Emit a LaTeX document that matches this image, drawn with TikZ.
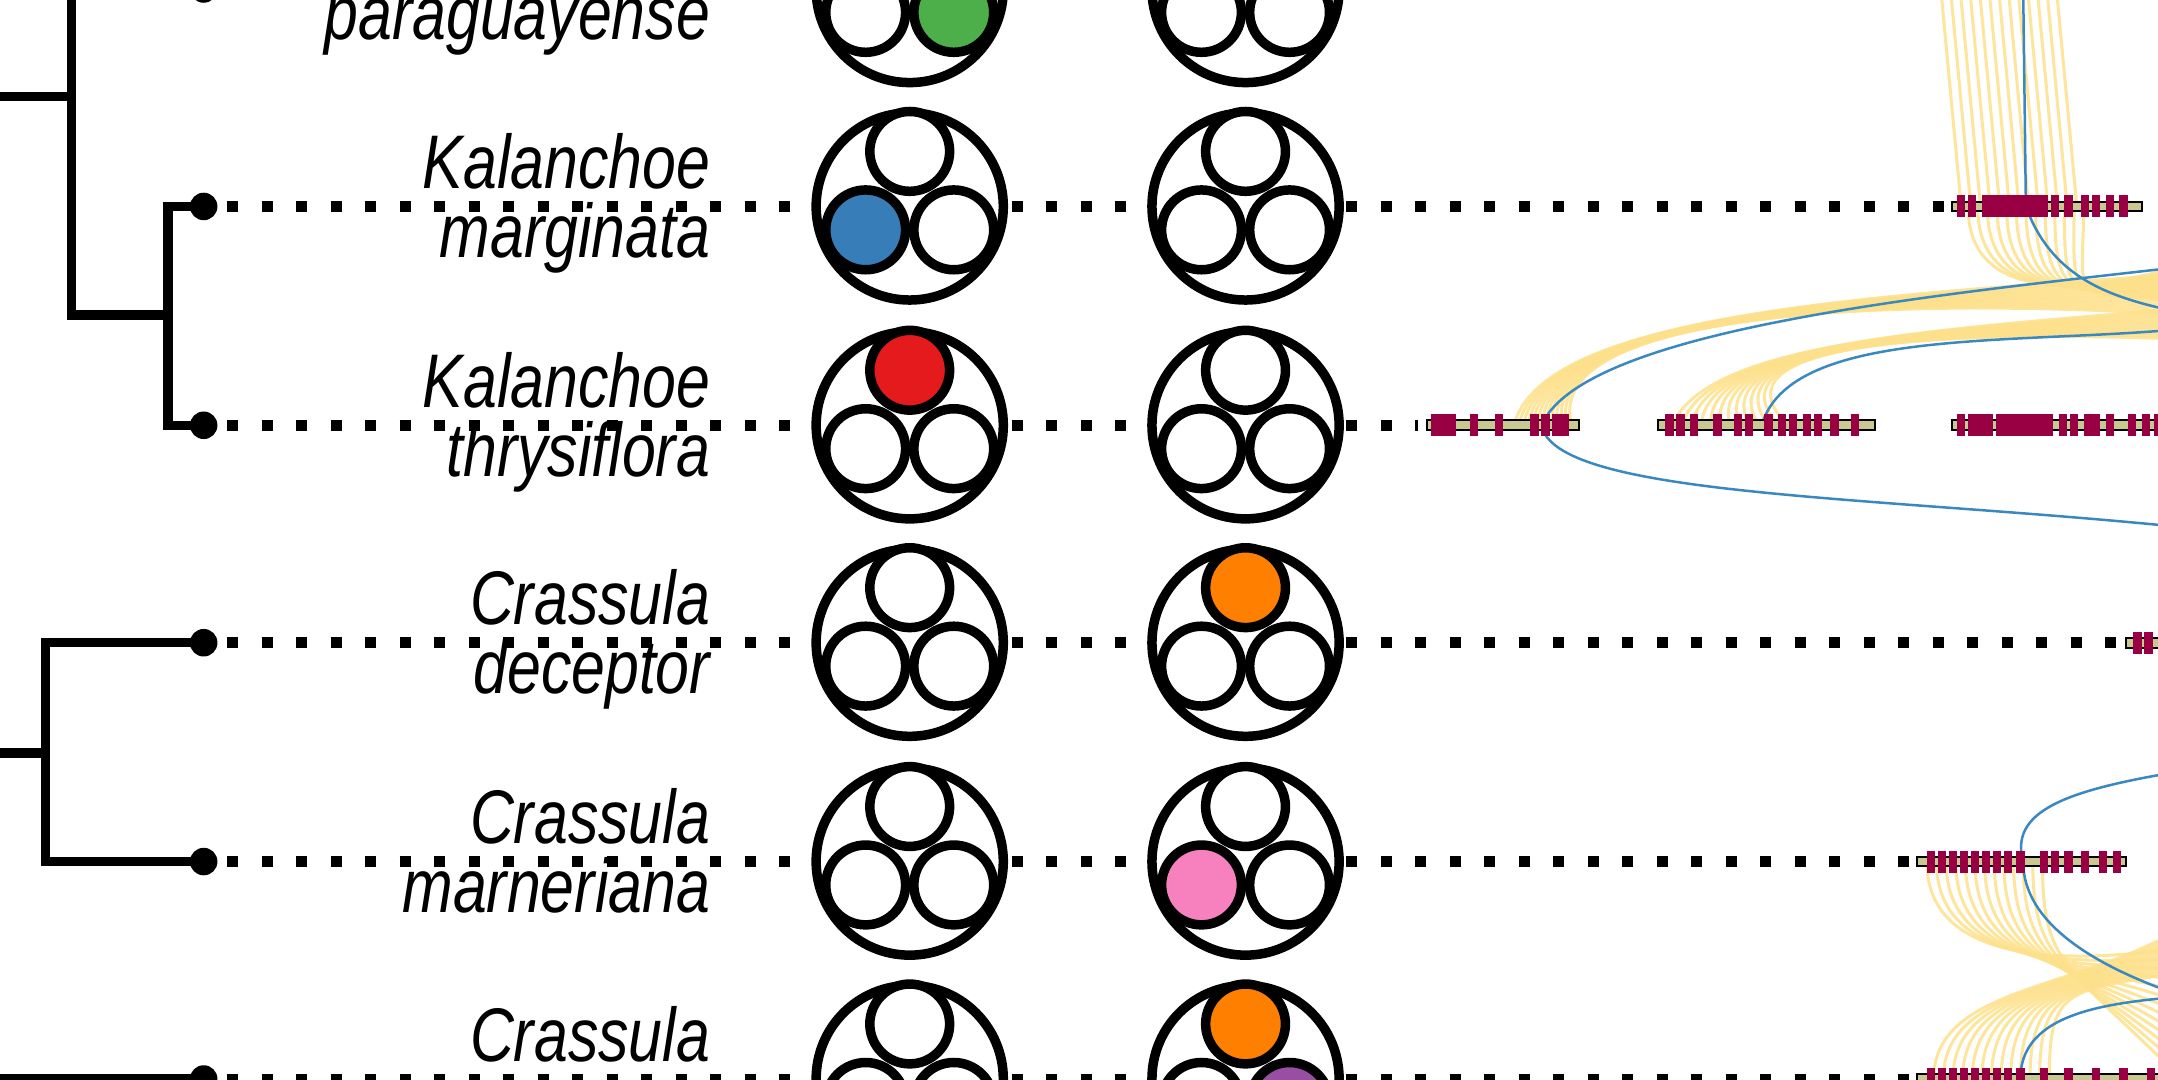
\documentclass[tikz,border=0pt]{standalone}
\usepackage{fontspec}
\setmainfont{Liberation Sans}
\definecolor{cgreen}{HTML}{4DAF4A}
\definecolor{cblue}{HTML}{377EB8}
\definecolor{cred}{HTML}{E41A1C}
\definecolor{corange}{HTML}{FF7F00}
\definecolor{cpink}{HTML}{F781BF}
\definecolor{cpurple}{HTML}{984EA3}
\definecolor{gene}{HTML}{990044}
\definecolor{ribbon}{HTML}{FDE08B}
\definecolor{link}{HTML}{3A88C0}
\definecolor{barfill}{HTML}{C8C890}
\tikzset{
  branch/.style={line width=9.5pt},
  guide/.style={line width=11pt, dash pattern=on 11pt off 23.5pt},
  ring/.style={line width=9.5pt, draw=black},
  yel/.style={ribbon, line width=3pt, opacity=0.85},
  blu/.style={link, line width=2.5pt},
  taxon/.style={anchor=base east, inner sep=0pt, font=\fontsize{76}{76}\selectfont\itshape, xscale=0.8}
}
% gene track: \track{x0}{x1}{y}{gene positions}
\newcommand{\track}[4]{%
  \draw[black, fill=barfill, line width=2pt] (#1,#3-3.5) rectangle (#2,#3+3.5);
  \foreach \g in {#4} \fill[gene] (\g,#3-8) rectangle (\g+6,#3+8);
}
% flower symbol: \flower{x}{y}{top}{left}{right}
\newcommand{\flower}[5]{%
  \draw[ring, fill=white] (#1,#2) circle (68);
  \draw[ring, fill=#3] (#1,#2-40) circle (29);
  \draw[ring, fill=#4] (#1-32,#2+17) circle (29);
  \draw[ring, fill=#5] (#1+32,#2+17) circle (29);
}
\begin{document}
\begin{tikzpicture}[x=1.3763pt,y=-1.3763pt]
\useasboundingbox (0,0) rectangle (1568,784);
\clip (0,0) rectangle (1568,784);
% ribbons
\foreach \d in {0,7,...,84} {
  \draw[yel] (1430+\d,150) .. controls (1430+\d,215) and (1500,215) .. (1575,196+\d/4);
  \draw[yel] (1410+\d,-10) -- (1425+\d,150);
  \draw[yel] (1100+\d/2,309) .. controls (1120,230) and (1350,215) .. (1575,200+\d/3);
  \draw[yel] (1215+\d,309) .. controls (1240,250) and (1400,240) .. (1575,225+\d/4);
  \draw[yel] (1400+\d,626) .. controls (1400+\d,700) and (1500,700) .. (1575,690+\d);
  \draw[yel] (1405+\d,784) .. controls (1405+\d,720) and (1500,720) .. (1575,680+\d/3);
}
\draw[blu] (1470,-10) -- (1472,150) .. controls (1490,200) and (1530,215) .. (1575,225);
\draw[blu] (1120,309) .. controls (1150,240) and (1400,215) .. (1575,195);
\draw[blu] (1120,309) .. controls (1130,360) and (1350,360) .. (1575,382);
\draw[blu] (1280,309) .. controls (1300,240) and (1450,250) .. (1575,240);
\draw[blu] (1470,626) .. controls (1460,590) and (1500,575) .. (1575,562);
\draw[blu] (1470,626) .. controls (1470,670) and (1520,700) .. (1575,720);
\draw[blu] (1468,784) .. controls (1468,740) and (1520,730) .. (1575,725);
% tree
\coordinate (tPar) at (148,-8);
\coordinate (tMar) at (148,150);
\coordinate (tThr) at (148,309);
\coordinate (tDec) at (148,467);
\coordinate (tMrn) at (148,626);
\coordinate (tBot) at (148,784);
\draw[branch] (0,70) -- (52,70);
\draw[branch] (52,-20) -- (52,229) -- (122,229);
\draw[branch] (52,-8) -- (tPar);
\draw[branch] (tMar) -| (122,309) -- (tThr);
\draw[branch] (0,547) -- (33,547);
\draw[branch] (tDec) -| (33,626) -- (tMrn);
\draw[branch] (0,784) -- (tBot);
\foreach \t in {tPar,tMar,tThr,tDec,tMrn,tBot} \fill (\t) circle (10);
% dotted guides
\foreach \y/\e in {-8/1400, 150/1415, 309/1030, 467/1545, 626/1390, 784/1390} {
  \draw[guide] (165,\y) -- (590,\y);
  \draw[guide] (735,\y) -- (835,\y);
  \draw[guide] (978,\y) -- (\e,\y);
}
% labels
\foreach \y/\a/\b in {-8/{}/paraguayense, 150/Kalanchoe/marginata, 309/Kalanchoe/thrysiflora,
                      467/Crassula/deceptor, 626/Crassula/marneriana, 784/Crassula/{}} {
  \node[taxon] (la\y) at (516,\y-13) {\a};
  \node[taxon] (lb\y) at (516,\y+37) {\b};
}
% flowers
\flower{661}{-8}{white}{white}{cgreen}
\flower{905}{-8}{white}{white}{white}
\flower{661}{150}{white}{cblue}{white}
\flower{905}{150}{white}{white}{white}
\flower{661}{309}{cred}{white}{white}
\flower{905}{309}{white}{white}{white}
\flower{661}{467}{white}{white}{white}
\flower{905}{467}{corange}{white}{white}
\flower{661}{626}{white}{white}{white}
\flower{905}{626}{white}{cpink}{white}
\flower{661}{784}{white}{white}{white}
\flower{905}{784}{corange}{white}{cpurple}
% tracks
\track{1400}{1540}{-8}{1405,1415,1430,1440,1450,1460,1470,1480,1495,1520}
\track{1418}{1556}{150}{1422,1430,1440,1446,1452,1458,1464,1470,1476,1482,1490,1500,1512,1520,1530,1540}
\track{1037}{1147}{309}{1040,1046,1052,1068,1086,1112,1120,1128,1134}
\track{1205}{1362}{309}{1210,1218,1228,1245,1260,1268,1282,1292,1300,1310,1318,1330,1345}
\track{1418}{1575}{309}{1422,1430,1436,1442,1450,1456,1462,1468,1474,1480,1486,1496,1504,1514,1520,1530,1546,1556,1565}
\track{1545}{1575}{467}{1550,1558}
\track{1393}{1545}{626}{1400,1408,1416,1424,1432,1440,1448,1456,1465,1482,1490,1500,1512,1525,1535}
\track{1393}{1575}{784}{1400,1408,1416,1424,1432,1440,1448,1456,1465,1482,1500,1520,1540,1560}
\end{tikzpicture}
\end{document}
